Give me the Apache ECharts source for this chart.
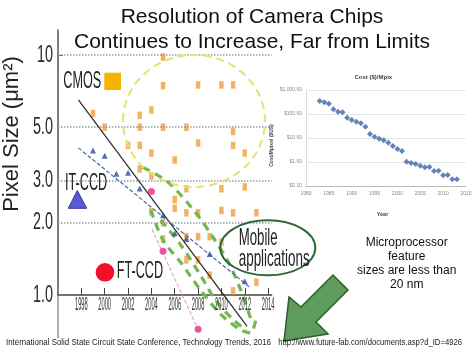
<!DOCTYPE html>
<html><head><meta charset="utf-8">
<script src="https://cdn.jsdelivr.net/npm/echarts@6/dist/echarts.min.js"></script>
<style>html,body{margin:0;padding:0;background:#fff}#c{width:474px;height:355px}</style>
</head><body><div id="c"></div>
<script>
// ---------- data ----------
const xTickYears = [1998, 2000, 2002, 2004, 2006, 2008, 2010, 2012, 2014];
const yTickValues = [1, 2, 3, 5, 10];
const yTickLabels = ['1.0', '2.0', '3.0', '5.0', '10'];
const gridLineValues = [2, 3, 5, 10];

const cmosPoints = [[2005,9.8],[2005,7.45],[2008,7.5],[2010,7.5],[2011,7.5],[1999,5.7],[2004,5.9],[2003,5.6],
  [2000,5.0],[2003,5.0],[2005,5.0],[2007,5.0],[2011,4.8],[2002,4.2],[2003,4.2],[2008,4.3],[2011,4.2],
  [2004,3.9],[2012,3.9],[2006,3.65],[2003,3.35],[2004,3.13],[2007,2.77],[2010,2.77],[2012,2.82],
  [2006,2.5],[2006,2.3],[2004,2.22],[2007,2.2],[2008,2.2],[2010,2.25],[2011,2.2],[2013,2.2],[2005,2.0],
  [2005,1.71],[2007,1.75],[2008,1.75],[2009,1.75],[2010,1.66],[2007,1.4],[2008,1.4],[2009,1.21],
  [2011,1.04],[2013,1.13]];
const itccdPoints = [[1999,4.0],[2000,3.8],[2001,3.2],[2002,3.23],[2003,2.78],[2005,2.15],[2006,1.81],
  [2007,1.71],[2009,1.48],[2012,1.14]];
const ftccdPoints = [[2004,2.7],[2005,1.52],[2008,0.72]];

const cmosTrend = [[1997.75,6.5],[2012.2,0.74]];
const itccdTrend = [[1997.75,4.1],[2012.5,1.07]];
const ftccdTrend = [[2004.05,1.88],[2008.05,0.71]];
const mobileTrendA = [[2003.25,3.41],[2005.4,2.96],[2007.8,2.2],[2009.25,1.75],[2010.6,1.37],[2011.65,1.05],[2012.5,0.8]];
const mobileTrendB = [[2004.8,2.05],[2006.5,1.62],[2008.2,1.21],[2009.5,0.95],[2011,0.79],[2012.15,0.71]];
const mobileTrendC = [[2003.95,2.26],[2005,1.69],[2006.5,1.37],[2008.2,1.05],[2009.95,0.83],[2011.65,0.715],[2012.5,0.695],[2012.95,0.79]];

const costYears = [1983,1984,1985,1986,1987,1988,1989,1990,1991,1992,1993,1994,1995,1996,1997,1998,
  1999,2000,2001,2002,2003,2004,2005,2006,2007,2008,2009,2010,2011,2012,2013];
const costPerMpix = [348,307,268,157,125,118,70,56,48,41,29.6,14.7,11.3,9.35,8.0,6.37,4.64,3.48,2.87,
  1.03,0.91,0.83,0.70,0.60,0.62,0.42,0.43,0.28,0.29,0.19,0.19];

// ---------- chart ----------
const FONT = "'Liberation Sans', Arial, sans-serif";
const chart = echarts.init(document.getElementById('c'), null, {renderer: 'canvas'});

const option = {
  animation: false,
  backgroundColor: '#ffffff',
  grid: [
    {left: 58, right: 202.4, top: 30, bottom: 60, containLabel: false, outerBoundsMode: 'none'},
    {left: 306, right: 8, top: 90, bottom: 169, containLabel: false, outerBoundsMode: 'none'}
  ],
  xAxis: [
    {gridIndex: 0, type: 'value', min: 1996, max: 2014.3,
      axisLine: {onZero: false, lineStyle: {color: '#444', width: 1.5}},
      axisTick: {show: true, inside: true, length: 7, customValues: xTickYears, lineStyle: {color: '#444', width: 1}},
      axisLabel: {show: false}, splitLine: {show: false}},
    {gridIndex: 1, type: 'value', min: 1980, max: 2015, interval: 5,
      axisLine: {onZero: false, lineStyle: {color: '#bbb', width: 1}},
      axisTick: {show: false},
      axisLabel: {fontSize: 5, color: '#888', margin: 5, fontFamily: FONT, formatter: v => String(v)},
      splitLine: {show: false}}
  ],
  yAxis: [
    {gridIndex: 0, type: 'log', logBase: 10, min: 1, max: 12.7,
      axisLine: {show: true, onZero: false, lineStyle: {color: '#555', width: 1.5}},
      axisTick: {show: true, inside: true, length: 5, customValues: [10], lineStyle: {color: '#555'}},
      axisLabel: {show: false}, splitLine: {show: false}},
    {gridIndex: 1, type: 'log', logBase: 10, min: 0.1, max: 1000,
      axisLine: {show: true, lineStyle: {color: '#ddd'}},
      axisTick: {show: false},
      axisLabel: {fontSize: 5, color: '#888', margin: 4, fontFamily: FONT,
        formatter: v => '$' + Number(v).toLocaleString('en-US', {minimumFractionDigits: 2, maximumFractionDigits: 2})},
      splitLine: {show: true, lineStyle: {color: '#e6e6e6', width: 1}}}
  ],
  series: [
    {name: 'CMOS', type: 'scatter', xAxisIndex: 0, yAxisIndex: 0, data: cmosPoints, clip: false,
      symbol: 'rect', symbolSize: [4.5, 7.5], itemStyle: {color: '#EFA03C'}, z: 3,
      markLine: {silent: true, symbol: 'none', label: {show: false},
        lineStyle: {color: '#9a9a9a', type: 'dotted', width: 1.5},
        data: gridLineValues.map(v => ({yAxis: v}))}},
    {name: 'CMOS trend', type: 'line', xAxisIndex: 0, yAxisIndex: 0, data: cmosTrend, clip: false,
      symbol: 'none', lineStyle: {color: '#2a2a2a', width: 1.2}, z: 5},
    {name: 'IT-CCD trend', type: 'line', xAxisIndex: 0, yAxisIndex: 0, data: itccdTrend, clip: false,
      symbol: 'none', lineStyle: {color: '#4a6aa8', width: 1.2, type: [4, 2]}, z: 5},
    {name: 'FT-CCD trend', type: 'line', xAxisIndex: 0, yAxisIndex: 0, data: ftccdTrend, clip: false,
      symbol: 'none', lineStyle: {color: '#e08ac8', width: 1, type: [4, 2]}, z: 5},
    {name: 'Mobile A', type: 'line', xAxisIndex: 0, yAxisIndex: 0, data: mobileTrendA, clip: false, smooth: 0.3,
      symbol: 'none', lineStyle: {color: '#72B84E', width: 3.2, type: [8, 6]}, z: 4},
    {name: 'Mobile B', type: 'line', xAxisIndex: 0, yAxisIndex: 0, data: mobileTrendB, clip: false, smooth: 0.3,
      symbol: 'none', lineStyle: {color: '#72B84E', width: 3.2, type: [8, 6]}, z: 4},
    {name: 'Mobile C', type: 'line', xAxisIndex: 0, yAxisIndex: 0, data: mobileTrendC, clip: false, smooth: 0.3,
      symbol: 'none', lineStyle: {color: '#72B84E', width: 3.2, type: [8, 6]}, z: 4},
    {name: 'IT-CCD', type: 'scatter', xAxisIndex: 0, yAxisIndex: 0, data: itccdPoints, clip: false,
      symbol: 'triangle', symbolSize: 6, itemStyle: {color: '#2B4C9B'}, z: 6},
    {name: 'FT-CCD', type: 'scatter', xAxisIndex: 0, yAxisIndex: 0, data: ftccdPoints, clip: false,
      symbol: 'circle', symbolSize: 7, itemStyle: {color: '#E0308A'}, z: 6},
    {name: 'Cost', type: 'scatter', xAxisIndex: 1, yAxisIndex: 1,
      data: costYears.map((y, i) => [y, costPerMpix[i]]),
      symbol: 'diamond', symbolSize: 6, itemStyle: {color: '#3b66a8'}, z: 3}
  ]
};
chart.setOption(option);

// ---------- annotations ----------
function txt(text, x, y, o) {
  o = o || {};
  return {type: 'text', x: x, y: y, scaleX: o.scaleX || 1, rotation: o.rotation || 0, z: 100,
    style: {text: text, fill: o.color || '#222', fontSize: o.fontSize || 12, fontFamily: FONT,
      fontWeight: o.fontWeight || 'normal', align: o.align || 'center', verticalAlign: 'middle',
      lineHeight: o.lineHeight}};
}
const toPx = (x, y, i) => chart.convertToPixel({gridIndex: i || 0}, [x, y]);
const g = [];

// title
g.push(txt('Resolution of Camera Chips', 252, 17, {fontSize: 21, color: '#111'}));
g.push(txt('Continues to Increase, Far from Limits', 252, 42, {fontSize: 21, color: '#111'}));
// y axis name
g.push(txt('Pixel Size (\u03bcm\u00b2)', 12, 134, {fontSize: 22, rotation: Math.PI / 2, color: '#222'}));

// main axis tick labels positioned by the axes' own scales
yTickValues.forEach((v, i) => {
  const p = toPx(1996, v, 0);
  g.push(txt(yTickLabels[i], 53, p[1], {fontSize: 24, align: 'right', scaleX: 0.6, color: '#2a2a2a'}));
});
xTickYears.forEach(yr => {
  const p = toPx(yr, 1, 0);
  g.push(txt(String(yr), p[0], p[1] + 10, {fontSize: 19, scaleX: 0.3, color: '#333'}));
});
// y axis line extension below the x axis
const yb = toPx(1996, 1, 0);
g.push({type: 'line', z: 1, shape: {x1: yb[0], y1: yb[1], x2: yb[0], y2: 338}, style: {stroke: '#777', lineWidth: 1.2}});

// legend-like labels
g.push(txt('CMOS', 63.3, 82, {fontSize: 23, align: 'left', scaleX: 0.55}));
g.push({type: 'rect', z: 100, shape: {x: 104.3, y: 72.7, width: 16.7, height: 17.3}, style: {fill: '#F4B400'}});
g.push(txt('IT-CCD', 65, 184, {fontSize: 23, align: 'left', scaleX: 0.55}));
g.push({type: 'polygon', z: 100, shape: {points: [[77.3, 190.5], [86.7, 208.3], [68.3, 208.3]]},
  style: {fill: '#5a5ad8', stroke: '#3434a0', lineWidth: 1}});
g.push({type: 'circle', z: 100, shape: {cx: 105, cy: 272.3, r: 9.3}, style: {fill: '#F0102A'}});
g.push(txt('FT-CCD', 116.7, 272, {fontSize: 23, align: 'left', scaleX: 0.55}));

// ellipses
g.push({type: 'ellipse', z: 50, shape: {cx: 194, cy: 121, rx: 71, ry: 66},
  style: {fill: 'none', stroke: '#E4E46A', lineWidth: 2, lineDash: [8, 5]}});
g.push({type: 'ellipse', z: 50, shape: {cx: 267.8, cy: 247.8, rx: 47.5, ry: 27.5},
  style: {fill: 'none', stroke: '#2F6A3A', lineWidth: 2}});
g.push(txt('Mobile', 238.7, 238, {fontSize: 24, align: 'left', scaleX: 0.55}));
g.push(txt('applications', 238.7, 259.5, {fontSize: 24, align: 'left', scaleX: 0.56}));

// arrow
g.push({type: 'polygon', z: 50, shape: {points: [[284, 341], [289, 297], [301, 307], [333, 275], [348, 290], [316, 322], [328, 334]]},
  style: {fill: '#5E9C5E', stroke: '#2E5E2E', lineWidth: 1.5}});

// side note
g.push(txt('Microprocessor\nfeature\nsizes are less than\n20 nm', 406.7, 263.7, {fontSize: 12, lineHeight: 14.3, color: '#111'}));

// inset titles
g.push(txt('Cost ($)/Mpix', 373.3, 77, {fontSize: 6, fontWeight: 'bold', color: '#444'}));
g.push(txt('Year', 382.5, 214, {fontSize: 5.5, fontWeight: 'bold', color: '#444'}));
g.push(txt('Cost/Mpixel ($US)', 272, 145.5, {fontSize: 5, fontWeight: 'bold', color: '#444', rotation: Math.PI / 2}));

// footer
g.push(txt('International Solid State Circuit State Conference, Technology Trends, 2016', 6, 343,
  {fontSize: 9, align: 'left', scaleX: 0.878, color: '#222'}));
g.push(txt('http://www.future-fab.com/documents.asp?d_ID=4926', 278.3, 343,
  {fontSize: 9, align: 'left', scaleX: 0.855, color: '#222'}));

chart.setOption({graphic: g});
</script>
</body></html>
